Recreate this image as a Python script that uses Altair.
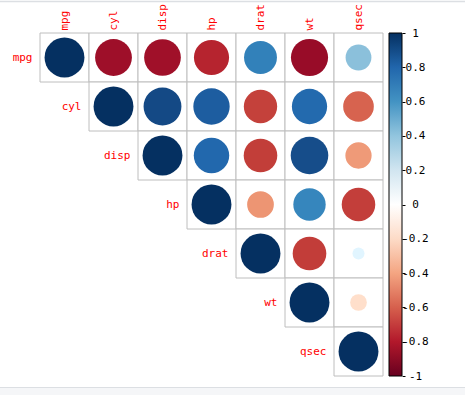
import altair as alt
import pandas as pd

variables = ["mpg", "cyl", "disp", "hp", "drat", "wt", "qsec"]
# upper-triangle correlations (row i, columns i..n-1)
corr_rows = [
    [1.0, -0.852, -0.848, -0.776, 0.681, -0.868, 0.419],
    [1.0, 0.902, 0.832, -0.700, 0.782, -0.591],
    [1.0, 0.791, -0.710, 0.888, -0.434],
    [1.0, -0.449, 0.659, -0.708],
    [1.0, -0.712, 0.091],
    [1.0, -0.175],
    [1.0],
]
legend_ticks = [-1, -0.8, -0.6, -0.4, -0.2, 0, 0.2, 0.4, 0.6, 0.8, 1]
palette = ["#67001F", "#B2182B", "#D6604D", "#F4A582", "#FDDBC7", "#FFFFFF",
           "#D1E5F0", "#92C5DE", "#4393C3", "#2166AC", "#053061"]

records = []
for i, row in enumerate(corr_rows):
    for k, r in enumerate(row):
        j = i + k
        records.append({"row": variables[i], "col": variables[j], "r": r, "absr": abs(r),
                        "diag": variables[i] if i == j else ""})
df = pd.DataFrame(records)
diag_df = df[df["diag"] != ""]

FONT = "DejaVu Sans Mono"
color_scale = alt.Scale(domain=legend_ticks, range=palette)

x_enc = alt.X("col:N", sort=variables,
              scale=alt.Scale(paddingInner=0, paddingOuter=0),
              axis=alt.Axis(orient="top", labelAngle=270, title=None, ticks=False,
                            domain=False, labelColor="red", labelFont=FONT,
                            labelFontSize=11, labelPadding=3))
y_enc = alt.Y("row:N", sort=variables,
              scale=alt.Scale(paddingInner=0, paddingOuter=0), axis=None)

cells = alt.Chart(df).mark_rect(fill="white", stroke="#BEBEBE", strokeWidth=1).encode(
    x=x_enc, y=y_enc)
circles = alt.Chart(df).mark_circle(opacity=1).encode(
    x=x_enc, y=y_enc,
    size=alt.Size("absr:Q", scale=alt.Scale(domain=[0, 1], range=[0, 1590]), legend=None),
    color=alt.Color("r:Q", scale=color_scale, legend=None))
labels = alt.Chart(diag_df).mark_text(align="right", baseline="middle", dx=-32,
                                       color="red", font=FONT, fontSize=11).encode(
    x=x_enc, y=y_enc, text="diag:N")

main = alt.layer(cells, circles, labels)

grad = alt.Gradient(
    gradient="linear", x1=0, x2=0, y1=1, y2=0,
    stops=[alt.GradientStop(offset=(v + 1) / 2, color=c) for v, c in zip(legend_ticks, palette)])

bar = alt.Chart(pd.DataFrame({"lo": [-1], "hi": [1]})).mark_rect(
    fill=grad, stroke="black", strokeWidth=1).encode(
    x=alt.value(349), x2=alt.value(362),
    y=alt.Y("lo:Q", scale=alt.Scale(domain=[-1, 1], nice=False, zero=False),
            axis=alt.Axis(orient="right", offset=19, values=legend_ticks, title=None,
                          grid=False, domain=False, tickColor="black", tickSize=3,
                          labelColor="black", labelFont=FONT, labelFontSize=11,
                          labelAlign="center", labelPadding=10,
                          labelExpr="'' + datum.value", labelOverlap=False)),
    y2="hi:Q")

# viewer chrome: thin top line and grey strip at the bottom
one = pd.DataFrame({"k": [0]})
top_line = alt.Chart(one).mark_rule(color="#DCDFE3", strokeWidth=1.5).encode(
    x=alt.value(-40), x2=alt.value(425), y=alt.value(-31.5))
bottom_strip = alt.Chart(one).mark_rect(fill="#F5F6F8", stroke="#DCDFE3",
                                        strokeWidth=1).encode(
    x=alt.value(-41), x2=alt.value(426), y=alt.value(354.5), y2=alt.value(364))

chart = alt.layer(top_line, bottom_strip, main, bar).resolve_scale(y="independent").properties(
    width=343, height=343,
    autosize=alt.AutoSizeParams(type="none"),
    padding={"left": 40, "top": 33, "right": 82, "bottom": 19},
).configure_view(stroke=None)

chart.save("out.html", embed_options={"renderer": "svg", "actions": False})
